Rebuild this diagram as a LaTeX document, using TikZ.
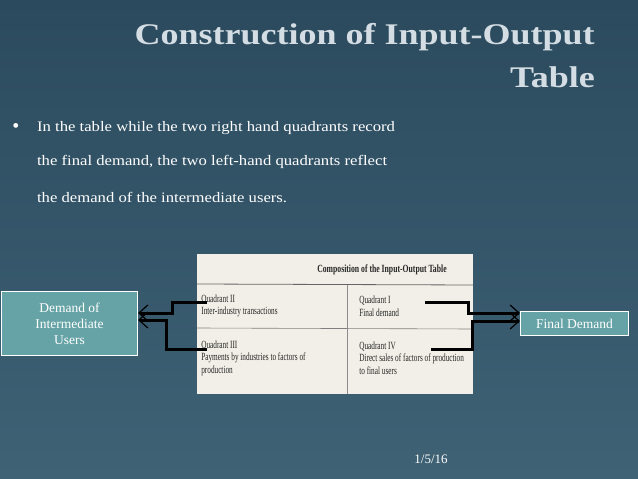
\documentclass[tikz,border=0pt]{standalone}
\usepackage{fontspec}
\setmainfont{Liberation Serif}
\usetikzlibrary{arrows.meta}
\definecolor{bgA}{HTML}{2B4A5E}
\definecolor{bgB}{HTML}{3F6275}
\definecolor{titlec}{HTML}{D3DDE3}
\definecolor{boxc}{HTML}{66A3A6}
\definecolor{paper}{HTML}{F1EFE7}
\tikzset{
  body/.style={text=white,font=\fontsize{14.5}{16}\selectfont,anchor=west,xscale=1.15,transform shape},
  ttl/.style={text=titlec,font=\bfseries\fontsize{30}{32}\selectfont,anchor=east,xscale=1.2,transform shape},
  tab/.style={font=\fontsize{11}{12.5}\selectfont,anchor=west,align=left,text=black!85,xscale=0.66,transform shape},
  sidebox/.style={draw=white,line width=1pt,fill=boxc,text=white,font=\fontsize{13.5}{16}\selectfont,align=center},
  conn/.style={line width=3pt,-{Straight Barb[length=9pt,width=16pt,line width=1.2pt]}}
}
\begin{document}
\begin{tikzpicture}[x=1pt,y=-1pt]
\useasboundingbox (0,0) rectangle (638,479);
\shade[top color=bgA,bottom color=bgB] (0,0) rectangle (638,479);
\node[ttl] (t1) at (599,37) {Construction of Input-Output};
\node[ttl] (t2) at (599,77) {Table};
\node[text=white,font=\fontsize{20}{20}\selectfont] (bul) at (16,128) {\textbullet};
\node[body] (l1) at (33,128) {In the table while the two right hand quadrants record};
\node[body] (l2) at (33,162) {the final demand, the two left-hand quadrants reflect};
\node[body] (l3) at (33,197) {the demand of the intermediate users.};
% table
\node[fill=paper,minimum width=276,minimum height=140,anchor=north west,inner sep=0] (tbl) at (197,254) {};
\node[font=\bfseries\fontsize{11}{12}\selectfont,xscale=0.7,transform shape,text=black!85] (hd) at (382,270) {Composition of the Input-Output Table};
\draw[black!60,line width=0.8pt] (197,284) -- (473,285);
\draw[black!50,line width=0.6pt] (197,328) -- (473,329);
\draw[black!45,line width=0.6pt] (347,285) -- (347,394);
\node[tab] (q2) at (199,306) {Quadrant II\\Inter-industry transactions};
\node[tab] (q1) at (357,306) {Quadrant I\\Final demand};
\node[tab] (q3) at (199,358) {Quadrant III\\Payments by industries to factors of\\production};
\node[tab] (q4) at (357,358) {Quadrant IV\\Direct sales of factors of production\\to final users};
% boxes
\node[sidebox,minimum width=136,minimum height=64,anchor=north west] (dem) at (1,291) {Demand of\\Intermediate\\Users};
\node[sidebox,minimum width=108,minimum height=24,anchor=north west] (fd) at (520,311) {Final Demand};
\coordinate (a1) at (207,302);
\coordinate (a2) at (207,349);
\coordinate (b1) at (425,302);
\coordinate (b2) at (431,349);
\draw[conn] (a1) -- (172,302) -- (172,313) -- (dem.east |- 0,313);
\draw[conn] (a2) -- (166,349) -- (166,320) -- (dem.east |- 0,320);
\draw[conn] (b1) -- (468,302) -- (468,313) -- (fd.west |- 0,313);
\draw[conn] (b2) -- (472,349) -- (472,321) -- (fd.west |- 0,321);
\node[text=white,font=\fontsize{13}{14}\selectfont] (date) at (431,459) {1/5/16};
\end{tikzpicture}
\end{document}
